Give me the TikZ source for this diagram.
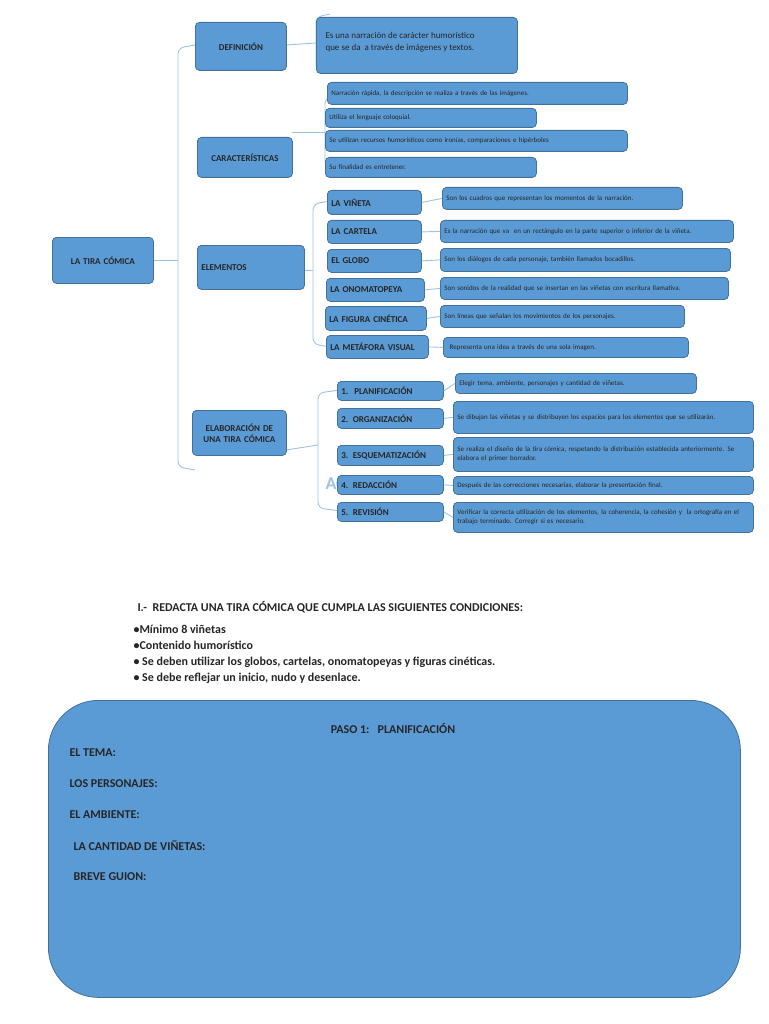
\documentclass[tikz,border=0pt]{standalone}
\usepackage{fontspec}
\setmainfont{Carlito}
\definecolor{bfill}{HTML}{5B9BD5}
\definecolor{bdraw}{HTML}{41719C}
\definecolor{lline}{HTML}{9DC3E6}
\tikzset{
 bx/.style={draw=bdraw, fill=bfill, rounded corners=4pt, line width=0.8pt, inner sep=4pt, font=\fontsize{9}{11}\selectfont\bfseries, text=black!85},
 lbl/.style={bx, align=center},
 lft/.style={bx, align=left},
 dsc/.style={bx, align=left, font=\fontsize{7}{9}\selectfont},
 br/.style={draw=lline, line width=0.9pt, rounded corners=6pt},
}
\newcommand\bx[7]{\pgfmathsetmacro\bw{#4-#2}\pgfmathsetmacro\bh{#5-#3}\pgfmathsetmacro\tw{#4-#2-8}%
\node[#6, minimum width=\bw pt, minimum height=\bh pt, text width=\tw pt, anchor=north west] (#1) at (#2,#3) {#7};}
\begin{document}
\begin{tikzpicture}[x=1pt,y=-1pt]
\useasboundingbox (0,0) rectangle (768,1024);
% braces
\draw[br] (195,45) -- (178,48) -- (178,467) -- (195,470);
\draw[br] (153,260) -- (178,260);
\draw[br] (330,14) -- (316,17) -- (316,70) -- (330,73);
\draw[br] (286,45) -- (316,43);
\draw[br] (340,95) -- (325,98) -- (325,166) -- (340,169);
\draw[br] (292,132) -- (325,132);
\draw[br] (330,201) -- (313,204) -- (313,344) -- (330,347);
\draw[br] (304,270) -- (313,270);
\draw[br] (340,390) -- (318,393) -- (318,508) -- (340,511);
\draw[br] (286,450) -- (318,445);
\node[text=lline, font=\fontsize{18}{18}\selectfont\bfseries, anchor=west] (ac) at (322,484) {AC};
% nodes
\bx{tira}{52}{237}{153}{283}{lbl}{LA TIRA CÓMICA}
\bx{def}{195}{22}{286}{70}{lbl}{DEFINICIÓN\\[16pt]}
\bx{deft}{316}{17}{517}{73}{lft}{}
\node[anchor=north west, align=left, font=\fontsize{9}{12}\selectfont, text=black!85] (deftx) at (322,29) {Es una narración de carácter humorístico\\que se da\ \ a través de imágenes y textos.};
\bx{car}{197}{137}{292}{177}{lbl}{CARACTERÍSTICAS}
\bx{c1}{327}{82}{627}{104}{dsc}{Narración rápida, la descripción se realiza a través de las imágenes.}
\bx{c2}{325}{108}{536}{127}{dsc}{Utiliza el lenguaje coloquial.}
\bx{c3}{325}{130}{627}{151}{dsc}{Se utilizan recursos humorísticos como ironías, comparaciones e hipérboles}
\bx{c4}{325}{157}{536}{177}{dsc}{Su finalidad es entretener.}
\bx{ele}{197}{245}{304}{289}{lft}{ELEMENTOS}
\bx{e1}{327}{190}{421}{214}{lft}{LA VIÑETA}
\bx{e2}{327}{220}{421}{243}{lft}{LA CARTELA}
\bx{e3}{327}{249}{421}{272}{lft}{EL GLOBO}
\bx{e4}{326}{278}{424}{301}{lft}{LA ONOMATOPEYA}
\bx{e5}{325}{306}{426}{330}{lft}{LA FIGURA CINÉTICA}
\bx{e6}{326}{335}{428}{358}{lft}{LA METÁFORA VISUAL}
\bx{d1}{442}{187}{682}{209}{dsc}{Son los cuadros que representan los momentos de la narración.}
\bx{d2}{440}{220}{733}{242}{dsc}{Es la narración que va\ \ en un rectángulo en la parte superior o inferior de la viñeta.}
\bx{d3}{440}{248}{730}{271}{dsc}{Son los diálogos de cada personaje, también llamados bocadillos.}
\bx{d4}{440}{277}{728}{299}{dsc}{Son sonidos de la realidad que se insertan en las viñetas con escritura llamativa.}
\bx{d5}{440}{305}{684}{327}{dsc}{Son líneas que señalan los movimientos de los personajes.}
\bx{d6}{443}{337}{688}{357}{dsc}{\ Representa una idea a través de una sola imagen.}
\foreach \i in {1,...,6} {\draw[br] (e\i.east) -- (d\i.west);}
\bx{ela}{192}{410}{286}{455}{lbl}{ELABORACIÓN DE UNA TIRA CÓMICA}
\bx{s1}{337}{381}{443}{400}{lft}{1.\ \ PLANIFICACIÓN}
\bx{s2}{337}{408}{443}{428}{lft}{2. ORGANIZACIÓN}
\bx{s3}{337}{445}{443}{465}{lft}{3. ESQUEMATIZACIÓN}
\bx{s4}{337}{475}{443}{494}{lft}{4. REDACCIÓN}
\bx{s5}{337}{502}{443}{521}{lft}{5. REVISIÓN}
\bx{t1}{455}{373}{696}{393}{dsc}{Elegir tema, ambiente, personajes y cantidad de viñetas.}
\bx{t2}{453}{401}{753}{433}{dsc}{Se dibujan las viñetas y se distribuyen los espacios para los elementos que se utilizarán.}
\bx{t3}{453}{437}{753}{471}{dsc}{Se realiza el diseño de la tira cómica, respetando la distribución establecida anteriormente. Se elabora el primer borrador.}
\bx{t4}{453}{476}{753}{494}{dsc}{Después de las correcciones necesarias, elaborar la presentación final.}
\bx{t5}{453}{502}{753}{532}{dsc}{Verificar la correcta utilización de los elementos, la coherencia, la cohesión y\ \ la ortografía en el trabajo terminado. Corregir si es necesario.}
\foreach \i in {1,...,5} {\draw[br] (s\i.east) -- (t\i.west);}
% instructions
\node[anchor=west, font=\fontsize{12}{14}\selectfont\bfseries, text=black!85] (ins) at (134,607) {I.-\ \ REDACTA UNA TIRA CÓMICA QUE CUMPLA LAS SIGUIENTES CONDICIONES:};
\node[anchor=north west, align=left, font=\fontsize{12}{16}\selectfont\bfseries, text=black!85] (bul) at (130,622) {•Mínimo 8 viñetas\\•Contenido humorístico\\• Se deben utilizar los globos, cartelas, onomatopeyas y figuras cinéticas.\\• Se debe reflejar un inicio, nudo y desenlace.};
% big box
\node[draw=bdraw, fill=bfill, rounded corners=50pt, line width=0.8pt, minimum width=692pt, minimum height=297pt, anchor=north west] (big) at (48,700) {};
\tikzset{pl/.style={anchor=west, font=\fontsize{12}{14}\selectfont\bfseries, text=black!85}}
\node[pl, anchor=center] (p1) at (393,728) {PASO 1:\ \ \ PLANIFICACIÓN};
\node[pl] (q1) at (66,753) {EL TEMA:};
\node[pl] (q2) at (66,784) {LOS PERSONAJES:};
\node[pl] (q3) at (66,815) {EL AMBIENTE:};
\node[pl] (q4) at (70,846) {LA CANTIDAD DE VIÑETAS:};
\node[pl] (q5) at (70,877) {BREVE GUION:};
\end{tikzpicture}
\end{document}
